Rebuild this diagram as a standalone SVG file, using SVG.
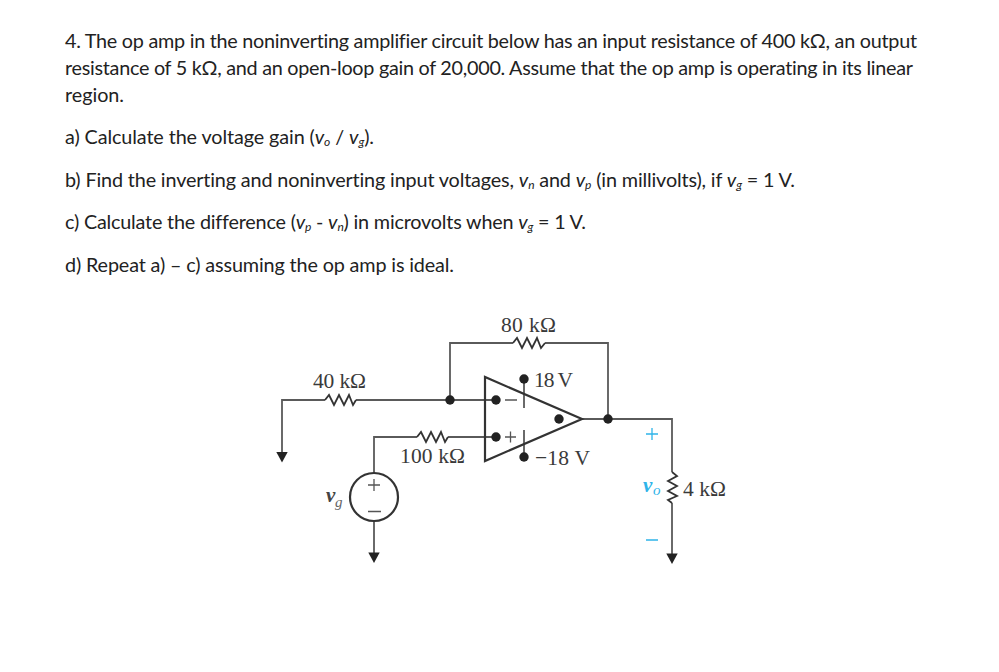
<svg xmlns="http://www.w3.org/2000/svg" width="999" height="672" viewBox="0 0 999 672">
<style>
.q{font-family:"Lato","Noto Sans",sans-serif;font-size:19.8px;fill:#222;font-variant-ligatures:none}
.q .i{font-style:italic}
.q .s{font-style:italic;font-size:12px}
.c{font-family:"Liberation Serif","DejaVu Serif",serif;font-size:21.500px;fill:#3a3a3a}
.v{font-family:"Liberation Serif","DejaVu Serif",serif;font-style:italic;font-weight:bold;font-size:21px}
.vs{font-family:"Liberation Serif","DejaVu Serif",serif;font-style:italic;font-size:15px}
.blue{fill:#2fb4e9}
.w{fill:none;stroke:#5a5a5a;stroke-width:1.8}
.b{fill:none;stroke:#333;stroke-width:2.2}
.r{fill:none;stroke:#333;stroke-width:1.8;stroke-linejoin:miter}
.d{fill:#222}
.sign{stroke:#555;stroke-width:1.3;fill:none}
.sb{stroke:#2fb4e9;stroke-width:1.3;fill:none}
</style>
<defs>
<path id="gnd" d="M-5.7 0H5.7L0 10.500Z" fill="#222"/>
</defs>
<rect width="999" height="672" fill="#fff"/>
<g id="question">
<text class="q" x="65" y="48" textLength="852">4. The op amp in the noninverting amplifier circuit below has an input resistance of 400 kΩ, an output</text>
<text class="q" x="65" y="75" textLength="848">resistance of 5 kΩ, and an open-loop gain of 20,000. Assume that the op amp is operating in its linear</text>
<text class="q" x="65" y="102" textLength="59">region.</text>
<text class="q" x="65" y="143.500" textLength="309">a) Calculate the voltage gain (<tspan class="i">v</tspan><tspan class="s" dy="2">o</tspan><tspan dy="-2"> / </tspan><tspan class="i">v</tspan><tspan class="s" dy="2">g</tspan><tspan dy="-2">).</tspan></text>
<text class="q" x="65" y="186.500" textLength="730">b) Find the inverting and noninverting input voltages, <tspan class="i">v</tspan><tspan class="s" dy="2">n</tspan><tspan dy="-2"> and </tspan><tspan class="i">v</tspan><tspan class="s" dy="2">p</tspan><tspan dy="-2"> (in millivolts), if </tspan><tspan class="i">v</tspan><tspan class="s" dy="2">g</tspan><tspan dy="-2"> = 1 V.</tspan></text>
<text class="q" x="65" y="228.500" textLength="521">c) Calculate the difference (<tspan class="i">v</tspan><tspan class="s" dy="2">p</tspan><tspan dy="-2"> - </tspan><tspan class="i">v</tspan><tspan class="s" dy="2">n</tspan><tspan dy="-2">) in microvolts when </tspan><tspan class="i">v</tspan><tspan class="s" dy="2">g</tspan><tspan dy="-2"> = 1 V.</tspan></text>
<text class="q" x="65" y="271.500" textLength="389">d) Repeat a) – c) assuming the op amp is ideal.</text>
</g>
<g id="connectors">
<path class="w" d="M325 400H282V453"/>
<path class="w" d="M356 400H496"/>
<path class="w" d="M450 400V343H513"/>
<path class="w" d="M545 343H608V419"/>
<path class="w" d="M582 419H672V472"/>
<path class="w" d="M672 503V554"/>
<path class="w" d="M374 473V437H417"/>
<path class="w" d="M448 437H496"/>
<path class="w" d="M374 521V553"/>
<path class="w" d="M524 379V408"/>
<path class="w" d="M524 430V457"/>
</g>
<g id="junction-inverting"><circle class="d" cx="450" cy="400" r="4.700"/></g>
<g id="junction-output"><circle class="d" cx="608" cy="419" r="4.700"/></g>
<g id="ground-left"><use href="#gnd" x="282" y="452"/></g>
<g id="ground-source"><use href="#gnd" x="374" y="552.500"/></g>
<g id="ground-load"><use href="#gnd" x="672" y="553.500"/></g>
<g id="r-40k">
<path class="r" d="M325 400L329 395L334 405L339 395L344 405L349 395L353 405L356 400"/>
<text class="c" x="313" y="388" textLength="53">40 kΩ</text>
</g>
<g id="r-80k">
<path class="r" d="M513 343L517 338L522 348L527 338L532 348L537 338L541 348L545 343"/>
<text class="c" x="501" y="332" textLength="55">80 kΩ</text>
</g>
<g id="r-100k">
<path class="r" d="M417 437L421 432L426 442L431 432L436 442L441 432L445 442L448 437"/>
<text class="c" x="400" y="463" textLength="65">100 kΩ</text>
</g>
<g id="r-4k">
<path class="r" d="M672 472L677 476L668 481L677 486L668 491L677 496L668 500L672 503"/>
<text class="c" x="683" y="496" textLength="43">4 kΩ</text>
</g>
<g id="opamp">
<path class="b" d="M485 377V461L582 419Z"/>
<circle class="d" cx="496" cy="400" r="4.700"/>
<circle class="d" cx="496" cy="437" r="4.700"/>
<circle class="d" cx="559" cy="419" r="4.700"/>
<circle class="d" cx="524" cy="379" r="4.700"/>
<circle class="d" cx="524" cy="457" r="4.700"/>
<path class="sign" d="M505 400H517M505 437H516M510.500 431.500V442.500"/>
<text class="c" x="534" y="387" textLength="39">18 V</text>
<text class="c" x="535" y="465" textLength="55">−18 V</text>
</g>
<g id="source-vg">
<circle class="b" cx="374" cy="497" r="24"/>
<path class="sign" d="M368 485H380M374 479V491M368 511.500H381"/>
<text class="v" x="326" y="502" fill="#444">v</text>
<text class="vs" x="335" y="507" fill="#666">g</text>
</g>
<g id="output-label">
<path class="sb" d="M646 434H658M652 428V440M646 540H658"/>
<text class="v blue" x="643" y="492">v</text>
<text class="vs blue" x="653" y="495">o</text>
</g>
</svg>
